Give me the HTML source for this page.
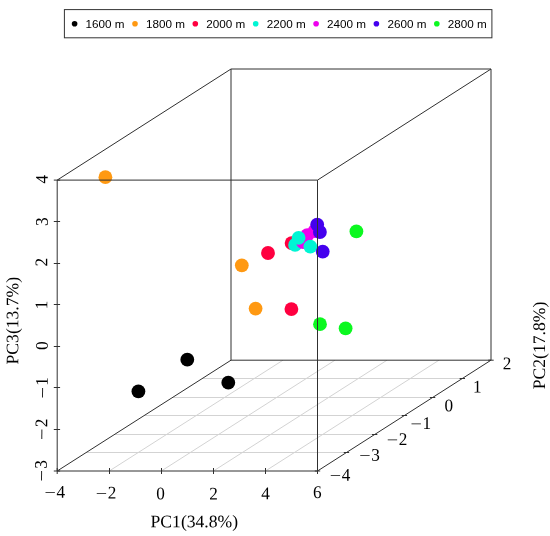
<!DOCTYPE html>
<html><head><meta charset="utf-8"><title>PCA 3D</title>
<style>
html,body{margin:0;padding:0;background:#fff;}
body{width:550px;height:536px;overflow:hidden;}
svg{display:block;}
.s{font-family:"Liberation Serif",serif;font-size:17.6px;fill:#000;}
.t{font-family:"Liberation Serif",serif;font-size:17.2px;fill:#000;}
.l{font-family:"Liberation Sans",sans-serif;font-size:11.7px;fill:#000;}
</style></head><body>
<svg width="550" height="536" viewBox="0 0 550 536">
<rect width="550" height="536" fill="#fff"/>

<rect x="64.4" y="9.6" width="427.5" height="28.2" fill="#fff" stroke="#333" stroke-width="1"/>
<circle cx="74.6" cy="23.8" r="2.8" fill="#000000"/>
<text class="l" x="85.6" y="27.6">1600 m</text>
<circle cx="135.0" cy="23.8" r="2.8" fill="#FF9912"/>
<text class="l" x="146.0" y="27.6">1800 m</text>
<circle cx="195.3" cy="23.8" r="2.8" fill="#FF0040"/>
<text class="l" x="206.3" y="27.6">2000 m</text>
<circle cx="255.7" cy="23.8" r="2.8" fill="#00F5D4"/>
<text class="l" x="266.7" y="27.6">2200 m</text>
<circle cx="316.1" cy="23.8" r="2.8" fill="#EE00EE"/>
<text class="l" x="327.1" y="27.6">2400 m</text>
<circle cx="376.4" cy="23.8" r="2.8" fill="#4400EE"/>
<text class="l" x="387.4" y="27.6">2600 m</text>
<circle cx="436.8" cy="23.8" r="2.8" fill="#0CF820"/>
<text class="l" x="447.8" y="27.6">2800 m</text>
<line x1="109.26" y1="471.0" x2="283.00" y2="360.2" stroke="#d3d3d3" stroke-width="1"/>
<line x1="161.32" y1="471.0" x2="335.00" y2="360.2" stroke="#d3d3d3" stroke-width="1"/>
<line x1="213.38" y1="471.0" x2="387.00" y2="360.2" stroke="#d3d3d3" stroke-width="1"/>
<line x1="265.44" y1="471.0" x2="439.00" y2="360.2" stroke="#d3d3d3" stroke-width="1"/>
<line x1="86.22" y1="452.50" x2="346.47" y2="452.50" stroke="#d3d3d3" stroke-width="1"/>
<line x1="114.45" y1="434.50" x2="374.65" y2="434.50" stroke="#d3d3d3" stroke-width="1"/>
<line x1="144.26" y1="415.50" x2="404.41" y2="415.50" stroke="#d3d3d3" stroke-width="1"/>
<line x1="172.49" y1="397.50" x2="432.59" y2="397.50" stroke="#d3d3d3" stroke-width="1"/>
<line x1="202.29" y1="378.50" x2="462.34" y2="378.50" stroke="#d3d3d3" stroke-width="1"/>
<circle cx="138.4" cy="391.4" r="6.9" fill="#000000"/>
<circle cx="187.3" cy="359.7" r="6.9" fill="#000000"/>
<circle cx="228.3" cy="382.7" r="6.9" fill="#000000"/>
<circle cx="105.4" cy="177.2" r="6.9" fill="#FF9912"/>
<circle cx="241.8" cy="265.3" r="6.9" fill="#FF9912"/>
<circle cx="255.6" cy="308.6" r="6.9" fill="#FF9912"/>
<circle cx="268" cy="253" r="6.9" fill="#FF0040"/>
<circle cx="291.4" cy="309.1" r="6.9" fill="#FF0040"/>
<circle cx="291.6" cy="243.1" r="6.9" fill="#FF0040"/>
<circle cx="295.1" cy="244.9" r="6.9" fill="#00F5D4"/>
<circle cx="303.0" cy="242.2" r="6.9" fill="#EE00EE"/>
<circle cx="307.3" cy="235.1" r="6.9" fill="#EE00EE"/>
<circle cx="314.6" cy="231.0" r="6.9" fill="#EE00EE"/>
<circle cx="298.6" cy="237.8" r="6.9" fill="#00F5D4"/>
<circle cx="310.3" cy="246.6" r="6.9" fill="#00F5D4"/>
<circle cx="317.2" cy="224.6" r="6.9" fill="#4400EE"/>
<circle cx="319.9" cy="232.0" r="6.9" fill="#4400EE"/>
<circle cx="322.7" cy="251.6" r="6.9" fill="#4400EE"/>
<circle cx="356.4" cy="231.4" r="6.9" fill="#0CF820"/>
<circle cx="320" cy="324.2" r="6.9" fill="#0CF820"/>
<circle cx="345.6" cy="328.3" r="6.9" fill="#0CF820"/>
<line x1="231.00" y1="69.00" x2="491.00" y2="69.00" stroke="#303030" stroke-width="1"/>
<line x1="231.00" y1="69.00" x2="231.00" y2="360.20" stroke="#303030" stroke-width="1"/>
<line x1="491.00" y1="69.00" x2="491.00" y2="360.20" stroke="#303030" stroke-width="1"/>
<line x1="231.00" y1="360.20" x2="491.00" y2="360.20" stroke="#303030" stroke-width="1"/>
<line x1="57.20" y1="180.10" x2="231.00" y2="69.00" stroke="#303030" stroke-width="1"/>
<line x1="317.50" y1="180.10" x2="491.00" y2="69.00" stroke="#303030" stroke-width="1"/>
<line x1="57.20" y1="471.00" x2="231.00" y2="360.20" stroke="#303030" stroke-width="1"/>
<line x1="317.50" y1="471.00" x2="491.00" y2="360.20" stroke="#303030" stroke-width="1"/>
<line x1="57.20" y1="180.10" x2="317.50" y2="180.10" stroke="#303030" stroke-width="1"/>
<line x1="57.20" y1="180.10" x2="57.20" y2="471.00" stroke="#303030" stroke-width="1"/>
<line x1="317.50" y1="180.10" x2="317.50" y2="471.00" stroke="#303030" stroke-width="1"/>
<line x1="57.20" y1="471.00" x2="317.50" y2="471.00" stroke="#303030" stroke-width="1"/>
<line x1="57.20" y1="468.00" x2="57.20" y2="474.00" stroke="#303030" stroke-width="1"/>
<text class="t" transform="translate(44.41,497.70) rotate(0.03) scale(1,1.035)"><tspan textLength="11.4" lengthAdjust="spacingAndGlyphs" dy="0.7">−</tspan><tspan dx="0.6" dy="-0.7">4</tspan></text>
<line x1="109.50" y1="468.00" x2="109.50" y2="474.00" stroke="#303030" stroke-width="1"/>
<text class="t" transform="translate(95.79,498.40) rotate(0.03) scale(1,1.035)"><tspan textLength="11.4" lengthAdjust="spacingAndGlyphs" dy="0.7">−</tspan><tspan dx="0.6" dy="-0.7">2</tspan></text>
<line x1="161.50" y1="468.00" x2="161.50" y2="474.00" stroke="#303030" stroke-width="1"/>
<text class="t" transform="translate(156.34,499.15) rotate(0.03) scale(1,1.035)">0</text>
<line x1="213.50" y1="468.00" x2="213.50" y2="474.00" stroke="#303030" stroke-width="1"/>
<text class="t" transform="translate(209.36,499.40) rotate(0.03) scale(1,1.035)">2</text>
<line x1="265.50" y1="468.00" x2="265.50" y2="474.00" stroke="#303030" stroke-width="1"/>
<text class="t" transform="translate(261.18,499.20) rotate(0.03) scale(1,1.035)">4</text>
<line x1="317.50" y1="468.00" x2="317.50" y2="474.00" stroke="#303030" stroke-width="1"/>
<text class="t" transform="translate(312.96,497.90) rotate(0.03) scale(1,1.035)">6</text>
<line x1="53.80" y1="471.00" x2="60.10" y2="471.00" stroke="#303030" stroke-width="1"/>
<text class="t" transform="translate(46.85,481.41) rotate(-89.97) scale(1,1.035)"><tspan textLength="11.4" lengthAdjust="spacingAndGlyphs" dy="0.6">−</tspan><tspan dx="1.3" dy="-0.6">3</tspan></text>
<line x1="53.80" y1="429.50" x2="60.10" y2="429.50" stroke="#303030" stroke-width="1"/>
<text class="t" transform="translate(47.15,439.89) rotate(-89.97) scale(1,1.035)"><tspan textLength="11.4" lengthAdjust="spacingAndGlyphs" dy="0.6">−</tspan><tspan dx="1.3" dy="-0.6">2</tspan></text>
<line x1="53.80" y1="387.50" x2="60.10" y2="387.50" stroke="#303030" stroke-width="1"/>
<text class="t" transform="translate(47.75,398.43) rotate(-89.97) scale(1,1.035)"><tspan textLength="11.4" lengthAdjust="spacingAndGlyphs" dy="0.6">−</tspan><tspan dx="1.3" dy="-0.6">1</tspan></text>
<line x1="53.80" y1="346.50" x2="60.10" y2="346.50" stroke="#303030" stroke-width="1"/>
<text class="t" transform="translate(47.75,349.91) rotate(-89.97) scale(1,1.035)">0</text>
<line x1="53.80" y1="304.50" x2="60.10" y2="304.50" stroke="#303030" stroke-width="1"/>
<text class="t" transform="translate(47.35,309.16) rotate(-89.97) scale(1,1.035)">1</text>
<line x1="53.80" y1="263.50" x2="60.10" y2="263.50" stroke="#303030" stroke-width="1"/>
<text class="t" transform="translate(47.15,266.49) rotate(-89.97) scale(1,1.035)">2</text>
<line x1="53.80" y1="221.50" x2="60.10" y2="221.50" stroke="#303030" stroke-width="1"/>
<text class="t" transform="translate(47.75,225.88) rotate(-89.97) scale(1,1.035)">3</text>
<line x1="53.80" y1="180.10" x2="60.10" y2="180.10" stroke="#303030" stroke-width="1"/>
<text class="t" transform="translate(47.75,183.57) rotate(-89.97) scale(1,1.035)">4</text>
<line x1="314.80" y1="471.00" x2="320.20" y2="471.00" stroke="#303030" stroke-width="1"/>
<text class="t" transform="translate(329.76,480.65) rotate(0.03) scale(1,1.035)"><tspan textLength="11.4" lengthAdjust="spacingAndGlyphs" dy="0.7">−</tspan><tspan dx="0.6" dy="-0.7">4</tspan></text>
<line x1="343.77" y1="452.50" x2="349.17" y2="452.50" stroke="#303030" stroke-width="1"/>
<text class="t" transform="translate(359.16,460.80) rotate(0.03) scale(1,1.035)"><tspan textLength="11.4" lengthAdjust="spacingAndGlyphs" dy="0.7">−</tspan><tspan dx="0.6" dy="-0.7">3</tspan></text>
<line x1="371.95" y1="434.50" x2="377.35" y2="434.50" stroke="#303030" stroke-width="1"/>
<text class="t" transform="translate(386.67,445.10) rotate(0.03) scale(1,1.035)"><tspan textLength="11.4" lengthAdjust="spacingAndGlyphs" dy="0.7">−</tspan><tspan dx="0.6" dy="-0.7">2</tspan></text>
<line x1="401.71" y1="415.50" x2="407.11" y2="415.50" stroke="#303030" stroke-width="1"/>
<text class="t" transform="translate(410.59,429.00) rotate(0.03) scale(1,1.035)"><tspan textLength="11.4" lengthAdjust="spacingAndGlyphs" dy="0.7">−</tspan><tspan dx="0.6" dy="-0.7">1</tspan></text>
<line x1="429.89" y1="397.50" x2="435.29" y2="397.50" stroke="#303030" stroke-width="1"/>
<text class="t" transform="translate(444.39,411.20) rotate(0.03) scale(1,1.035)">0</text>
<line x1="459.64" y1="378.50" x2="465.04" y2="378.50" stroke="#303030" stroke-width="1"/>
<text class="t" transform="translate(472.99,392.40) rotate(0.03) scale(1,1.035)">1</text>
<line x1="488.30" y1="360.20" x2="493.70" y2="360.20" stroke="#303030" stroke-width="1"/>
<text class="t" transform="translate(502.81,369.20) rotate(0.03) scale(1,1.035)">2</text>
<text class="s" transform="translate(194.3,527.2) rotate(0.03)" text-anchor="middle">PC1(34.8%)</text>
<text class="s" transform="translate(18.2,320.7) rotate(-89.97)" text-anchor="middle">PC3(13.7%)</text>
<text class="s" transform="translate(545.1,345.5) rotate(-89.97)" text-anchor="middle">PC2(17.8%)</text>
</svg></body></html>
